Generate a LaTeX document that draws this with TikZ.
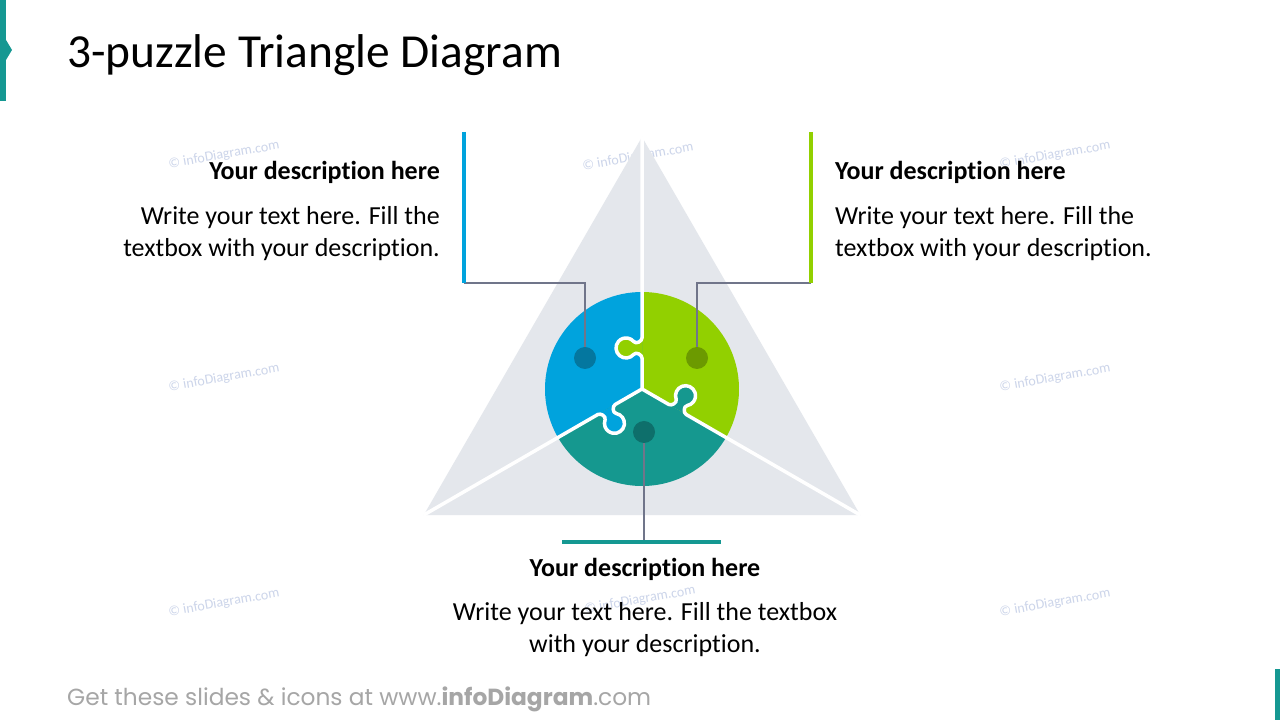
\documentclass[tikz,border=0pt]{standalone}
\usepackage{fontspec}
\setmainfont{Carlito}[RawFeature=-liga]
\newfontfamily\footfont{Poppins}
\usepackage{xcolor}
\usepackage{tikz}
\usetikzlibrary{positioning}

\definecolor{puzblue}{HTML}{00A3DD}
\definecolor{puzgreen}{HTML}{92D000}
\definecolor{puzteal}{HTML}{15988F}
\definecolor{dotblue}{HTML}{04779F}
\definecolor{dotgreen}{HTML}{6C9A00}
\definecolor{dotteal}{HTML}{0E6F6B}
\definecolor{trigray}{HTML}{E4E7EC}
\definecolor{leadgray}{HTML}{70758A}
\definecolor{markgray}{HTML}{CCD5EA}
\definecolor{footgray}{HTML}{A6A6A6}
\definecolor{accteal}{HTML}{159892}

\begin{document}
\begin{tikzpicture}[x=1pt, y=1pt]
    \tikzset{
        dot_node/.style={circle, minimum size=22pt, inner sep=0},
        bar_line/.style={line width=4.5pt},
        lead_line/.style={draw=leadgray, line width=1.2pt},
        seam/.style={white, line width=3.5pt, line join=round},
        head_text/.style={inner sep=0, font=\bfseries\fontsize{26}{32}\selectfont},
        body_text/.style={inner sep=0, font=\fontsize{26}{32}\selectfont},
        mark_text/.style={inner sep=0, rotate=10, text=markgray, font=\fontsize{14}{14}\selectfont}
    }
    \useasboundingbox (0,0) rectangle (1280,720);
    \fill[white] (0,0) rectangle (1280,720);

    \fill[accteal] (0,619) rectangle (6,720);
    \fill[accteal] (6,680) -- (12,670) -- (6,660) -- cycle;
    \fill[accteal] (1275,0) rectangle (1280,51);

    \node[anchor=base west, inner sep=0, font=\fontsize{47.4}{47.4}\selectfont] (title) at (67,652) {3-puzzle Triangle Diagram};

    \foreach \mx/\my in {224/565, 638/563, 1055/565, 224/342, 1055/342, 224/117, 640/120, 1055/117}
        \node[mark_text] at (\mx,\my) {© infoDiagram.com};

    \coordinate (ctr) at (642,331);
    \fill[trigray] (ctr) ++(90:252) coordinate (apex) -- ++(240:436.5) coordinate (base_l) -- ++(0:436.5) coordinate (base_r) -- cycle;

    \fill[puzgreen] (ctr) -- ++(-30:97) arc[start angle=-30, end angle=90, radius=97] -- cycle;
    \fill[puzblue] (ctr) -- ++(90:97) arc[start angle=90, end angle=210, radius=97] -- cycle;
    \fill[puzteal] (ctr) -- ++(210:97) arc[start angle=210, end angle=330, radius=97] -- cycle;
    \foreach \ang/\col in {90/puzgreen, 210/puzblue, 330/puzteal} {
        \begin{scope}[shift={(ctr)}, rotate=\ang]
            \fill[\col] (31,0) .. controls (34,0) and (37.7,5.7) .. (34.6,8.3) arc[start angle=230, end angle=-50, radius=10] .. controls (44.3,5.7) and (48,0) .. (51,0) -- cycle;
            \draw[seam] (0,0) -- (31,0) .. controls (34,0) and (37.7,5.7) .. (34.6,8.3) arc[start angle=230, end angle=-50, radius=10] .. controls (44.3,5.7) and (48,0) .. (51,0) -- (252,0);
        \end{scope}
    }

    \node[dot_node, fill=dotblue] (blue_dot) at (585,362) {};
    \node[dot_node, fill=dotgreen] (green_dot) at (697,362) {};
    \node[dot_node, fill=dotteal] (teal_dot) at (644,288) {};

    \coordinate (blue_top) at (464,588);
    \coordinate (blue_bot) at (464,437);
    \coordinate (green_top) at (811,588);
    \coordinate (green_bot) at (811,437);
    \coordinate (teal_l) at (562,178);
    \coordinate (teal_r) at (721,178);

    \draw[lead_line] (blue_dot) |- (blue_bot);
    \draw[lead_line] (green_dot) |- (green_bot);
    \draw[lead_line] (teal_dot) -- (teal_dot |- teal_l);
    \draw[bar_line, puzblue] (blue_top) -- (blue_bot);
    \draw[bar_line, puzgreen] (green_top) -- (green_bot);
    \draw[bar_line, accteal] (teal_l) -- (teal_r);

    \node[head_text, anchor=base east] (left_head) at (440,540) {Your description here};
    \node[body_text, anchor=base east, align=right] (left_body) at (440,463) {Write your text here. Fill the\\textbox with your description.};
    \node[head_text, anchor=base west] (right_head) at (835,540) {Your description here};
    \node[body_text, anchor=base west, align=left] (right_body) at (835,463) {Write your text here. Fill the\\textbox with your description.};
    \node[head_text, anchor=base] (bottom_head) at (645,143) {Your description here};
    \node[body_text, anchor=base, align=center] (bottom_body) at (645,67) {Write your text here. Fill the textbox\\with your description.};

    \node[anchor=base west, inner sep=0, text=footgray, font=\footfont\fontsize{23.3}{23.3}\selectfont] (footer) at (67,14) {Get these slides \& icons at www.\textbf{infoDiagram}.com};
\end{tikzpicture}
\end{document}
